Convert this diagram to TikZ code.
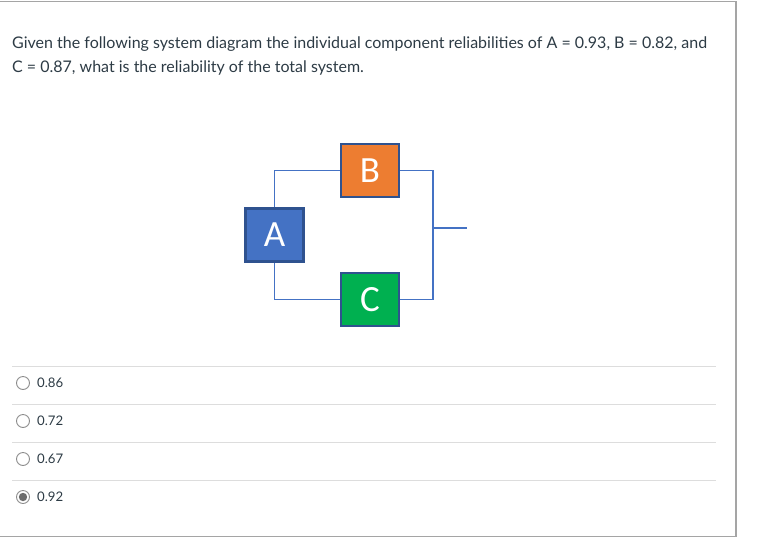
\documentclass[tikz,border=0pt]{standalone}
\usepackage{fontspec}
\setmainfont{Lato}
\newfontfamily\boxfont{Carlito}
\definecolor{txt}{HTML}{2D3B45}
\definecolor{frame}{HTML}{A5A5A5}
\definecolor{sep}{HTML}{DDDDDD}
\definecolor{wire}{HTML}{4472C4}
\definecolor{edge}{HTML}{2F528F}
\definecolor{fa}{HTML}{4472C4}
\definecolor{fb}{HTML}{ED7D31}
\definecolor{fc}{HTML}{00B050}
\begin{document}
\begin{tikzpicture}[x=1pt,y=-1pt,
  qtext/.style={anchor=base west,inner sep=0pt,text=txt,font=\fontsize{16}{18}\selectfont},
  otext/.style={anchor=base west,inner sep=0pt,text=txt,font=\fontsize{13.2}{16}\selectfont},
  comp/.style={draw=edge,line width=2.6pt,minimum width=58pt,minimum height=53pt,inner sep=0pt,text=white,font=\boxfont\fontsize{37}{40}\selectfont},
  wireline/.style={draw=wire,line width=1.2pt},
  radio/.style={circle,draw=gray!90,line width=0.9pt,minimum size=13pt,inner sep=0pt},
  sepline/.style={draw=sep,line width=1pt}]
\useasboundingbox (0,0) rectangle (777,542);
% frame
\draw[frame,line width=1.5pt] (-2,1.5) -- (736,1.5) -- (736,536.5) -- (-2,536.5);
% question
\node[qtext] (q1) at (12,48) {Given the following system diagram the individual component reliabilities of A = 0.93, B = 0.82, and};
\node[qtext] (q2) at (12,72) {C = 0.87, what is the reliability of the total system.};
% diagram
\node[comp,fill=fa] (A) at (274.5,235) {A};
\node[comp,fill=fb] (B) at (370,170.5) {B};
\node[comp,fill=fc] (C) at (370,299.5) {C};
\coordinate (j) at (433,228);
\coordinate (out) at (467,228);
\draw[wireline] (A.north) |- (B.west);
\draw[wireline] (A.south) |- (C.west);
\draw[wireline] (B.east) -| (j) |- (C.east);
\draw[wireline] (j) -- (out);
% options
\foreach \y in {366,404,442,480} \draw[sepline] (12,\y) -- (716,\y);
\node[radio] (r1) at (23,383) {};
\node[radio] (r2) at (23,421) {};
\node[radio] (r3) at (23,459) {};
\node[radio] (r4) at (23,497) {};
\fill[gray!85!black] (r4) circle (4.2pt);
\node[otext] (o1) at (37,387) {0.86};
\node[otext] (o2) at (37,425) {0.72};
\node[otext] (o3) at (37,463) {0.67};
\node[otext] (o4) at (37,501) {0.92};
\end{tikzpicture}
\end{document}
